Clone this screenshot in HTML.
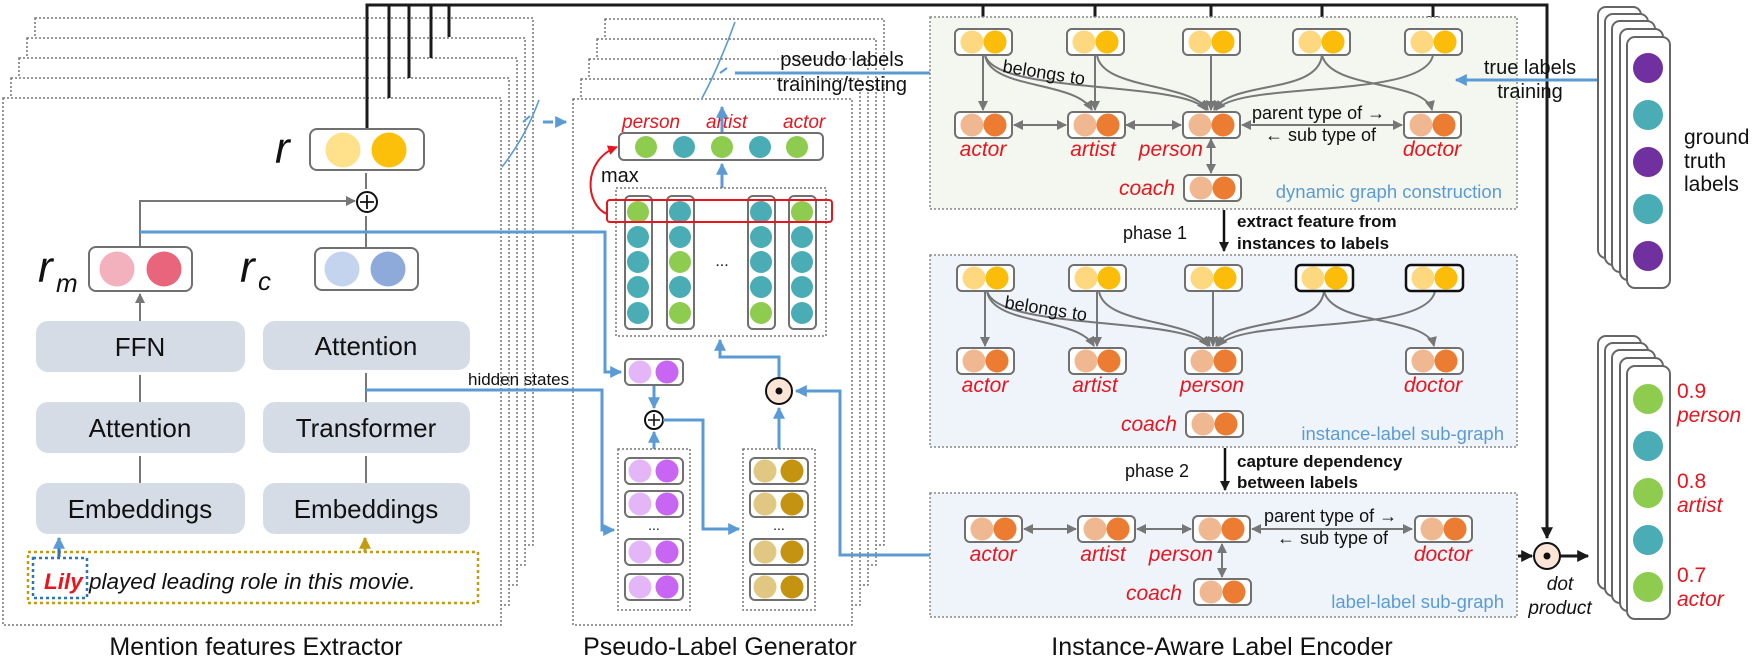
<!DOCTYPE html>
<html><head><meta charset="utf-8"><style>
html,body{margin:0;padding:0;background:#fff}
svg{display:block}
text{font-family:"Liberation Sans",sans-serif}
.it{font-style:italic}
.red{fill:#e8141e;font-style:italic;font-size:21px}
.fr{fill:#fff;stroke:#777;stroke-width:1.5;stroke-dasharray:2 2}
.gb{fill:#d6dce6;}
.bx{fill:#fff;stroke:#707070;stroke-width:2}
.g{stroke:#777;stroke-width:2;fill:none}
.bl{stroke:#5b9bd5;stroke-width:3;fill:none}
.k{stroke:#1a1a1a;stroke-width:3;fill:none}
</style></head><body>
<svg width="1753" height="660" viewBox="0 0 1753 660" xmlns="http://www.w3.org/2000/svg">
<defs>
<marker id="ag" viewBox="0 0 10 10" refX="9" refY="5" markerWidth="5" markerHeight="5" orient="auto-start-reverse"><path d="M0,0L10,5L0,10z" fill="#777"/></marker>
<marker id="ab" viewBox="0 0 10 10" refX="9" refY="5" markerWidth="4" markerHeight="4" orient="auto-start-reverse"><path d="M0,0L10,5L0,10z" fill="#5b9bd5"/></marker>
<marker id="ak" viewBox="0 0 10 10" refX="9" refY="5" markerWidth="4" markerHeight="4" orient="auto-start-reverse"><path d="M0,0L10,5L0,10z" fill="#1a1a1a"/></marker>
<marker id="ar" viewBox="0 0 10 10" refX="9" refY="5" markerWidth="5" markerHeight="5" orient="auto"><path d="M0,0L10,5L0,10z" fill="#e8141e"/></marker>
<marker id="ay" viewBox="0 0 10 10" refX="9" refY="5" markerWidth="4" markerHeight="4" orient="auto"><path d="M0,0L10,5L0,10z" fill="#c49a10"/></marker>
<g id="ib"><rect x="0" y="0" width="57" height="26" rx="5" class="bx"/><circle cx="17" cy="13" r="11.5" fill="#fdd87e"/><circle cx="40" cy="13" r="11.5" fill="#fbbd0a"/></g>
<g id="ibk"><rect x="0" y="0" width="57" height="26" rx="5" fill="#fff" stroke="#111" stroke-width="2.5"/><circle cx="17" cy="13" r="11.5" fill="#fdd87e"/><circle cx="40" cy="13" r="11.5" fill="#fbbd0a"/></g>
<g id="lb"><rect x="0" y="0" width="57" height="26" rx="5" class="bx"/><circle cx="17" cy="13" r="11.5" fill="#f0b890"/><circle cx="40" cy="13" r="11.5" fill="#ec7c32"/></g>
<g id="pb"><rect x="0" y="0" width="58" height="26" rx="5" class="bx"/><circle cx="15" cy="13" r="11.5" fill="#e4b6f8"/><circle cx="42" cy="13" r="11.5" fill="#c865f2"/></g>
<g id="yb"><rect x="0" y="0" width="58" height="26" rx="5" class="bx"/><circle cx="15" cy="13" r="11.5" fill="#e0c882"/><circle cx="42" cy="13" r="11.5" fill="#c49410"/></g>
</defs>

<!-- Left panel stack -->
<rect x="35" y="18" width="498" height="527" class="fr"/>
<rect x="27" y="38" width="498" height="527" class="fr"/>
<rect x="19" y="58" width="498" height="527" class="fr"/>
<rect x="11" y="78" width="498" height="527" class="fr"/>
<rect x="3" y="98" width="498" height="527" class="fr"/>

<!-- PLG stack -->
<rect x="605" y="19" width="279" height="526" class="fr"/>
<rect x="597" y="39" width="279" height="526" class="fr"/>
<rect x="589" y="59" width="279" height="526" class="fr"/>
<rect x="581" y="79" width="279" height="526" class="fr"/>
<rect x="573" y="99" width="279" height="526" class="fr"/>

<!-- black top connections -->
<path d="M367 129V5H1547V538" class="k" marker-end="url(#ak)"/>
<path d="M389 5V98M409 5V78M431 5V58M449 5V37" class="k"/>
<path d="M983 5V27M1095 5V27M1211 5V27M1322 5V27M1433 5V27" class="k" marker-end="url(#ak)"/>

<!-- Left panel contents -->
<rect x="36" y="321" width="209" height="51" rx="12" class="gb"/>
<rect x="36" y="402" width="209" height="51" rx="12" class="gb"/>
<rect x="36" y="483" width="209" height="51" rx="12" class="gb"/>
<rect x="263" y="321" width="207" height="49" rx="12" class="gb"/>
<rect x="263" y="402" width="207" height="51" rx="12" class="gb"/>
<rect x="263" y="483" width="207" height="51" rx="12" class="gb"/>
<g font-size="26" text-anchor="middle" fill="#111">
<text x="140" y="356">FFN</text><text x="140" y="437">Attention</text><text x="140" y="518">Embeddings</text>
<text x="366" y="355">Attention</text><text x="366" y="437">Transformer</text><text x="366" y="518">Embeddings</text>
</g>
<path d="M140 402V375M140 483V456M366 402V373M366 483V456M366 248V216M366 189V173M140 321V294" class="g" marker-end="url(#ag)"/>
<path d="M140 247V201H355" class="g" marker-end="url(#ag)"/>
<circle cx="367" cy="202" r="10" fill="#fff" stroke="#111" stroke-width="2"/>
<path d="M360 202H374M367 195V209" stroke="#111" stroke-width="1.8"/>
<rect x="310" y="129" width="114" height="41" rx="7" class="bx"/>
<circle cx="343" cy="150" r="17.5" fill="#fee18a"/><circle cx="389" cy="150" r="17.5" fill="#fdc00a"/>
<rect x="89" y="247" width="103" height="44" rx="7" class="bx"/>
<circle cx="117" cy="269" r="17.5" fill="#f3b0bd"/><circle cx="164" cy="269" r="17.5" fill="#e8657c"/>
<rect x="315" y="248" width="103" height="42" rx="7" class="bx"/>
<circle cx="342" cy="269" r="17.5" fill="#c4d3ee"/><circle cx="388" cy="269" r="17.5" fill="#8eaadb"/>
<text x="275" y="163" font-family="Liberation Serif" font-style="italic" font-size="44" fill="#111">r</text>
<text x="38" y="282" font-family="Liberation Serif" font-style="italic" font-size="44" fill="#111">r</text>
<text x="56" y="292" font-family="Liberation Serif" font-style="italic" font-size="26" fill="#111">m</text>
<text x="240" y="282" font-family="Liberation Serif" font-style="italic" font-size="44" fill="#111">r</text>
<text x="258" y="290" font-family="Liberation Serif" font-style="italic" font-size="26" fill="#111">c</text>

<rect x="28" y="552" width="450" height="51" fill="none" stroke="#c49a10" stroke-width="2.5" stroke-dasharray="3 3"/>
<rect x="33" y="558" width="54" height="40" fill="none" stroke="#2e75b6" stroke-width="2.5" stroke-dasharray="3 3"/>
<path d="M59 557V538" stroke="#2e75b6" stroke-width="3" marker-end="url(#ab)"/>
<path d="M365 552V538" stroke="#c49a10" stroke-width="3" marker-end="url(#ay)"/>
<text x="44" y="589" font-size="22.5" class="it" fill="#111"><tspan fill="#e8141e" font-weight="bold">Lily</tspan> played leading role in this movie.</text>
<text x="256" y="655" font-size="25" text-anchor="middle" fill="#111">Mention features Extractor</text>

<!-- blue slashes -->
<path d="M502 167C515 150 528 130 539 100" stroke="#5b9bd5" stroke-width="1.6" fill="none"/>
<path d="M523 122L530 116" stroke="#5b9bd5" stroke-width="2"/>
<path d="M543 122H566" class="bl" stroke-dasharray="10 4" marker-end="url(#ab)"/>
<path d="M702 98C712 80 725 50 735 22" stroke="#5b9bd5" stroke-width="1.6" fill="none"/>
<path d="M720 73L727 68" stroke="#5b9bd5" stroke-width="2"/>

<!-- PLG contents -->
<path d="M140 232H605V372H621" class="bl" marker-end="url(#ab)"/>
<path d="M366 390H602V530H614" class="bl" marker-end="url(#ab)"/>
<text x="468" y="385" font-size="17" fill="#111">hidden states</text>
<g class="red" font-size="19"><text x="622" y="128" font-size="19">person</text><text x="706" y="128" font-size="19">artist</text><text x="783" y="128" font-size="19">actor</text></g>
<path d="M722 133V107" class="bl" marker-end="url(#ab)"/>
<path d="M735 73H952" class="bl" marker-end="url(#ab)"/>
<text x="842" y="66" font-size="20" text-anchor="middle" fill="#111">pseudo labels</text>
<text x="842" y="91" font-size="20" text-anchor="middle" fill="#111">training/testing</text>
<rect x="619" y="133" width="204" height="27" rx="5" class="bx"/>
<circle cx="646" cy="147" r="11" fill="#8dcc4e"/><circle cx="684" cy="147" r="11" fill="#4aacb4"/><circle cx="722" cy="147" r="11" fill="#8dcc4e"/><circle cx="760" cy="147" r="11" fill="#4aacb4"/><circle cx="797" cy="147" r="11" fill="#8dcc4e"/>
<path d="M722 188V164" class="bl" marker-end="url(#ab)"/>
<text x="601" y="182" font-size="20" fill="#111">max</text>
<path d="M607 214C585 205 582 160 617 147" stroke="#e8141e" stroke-width="2" fill="none" marker-end="url(#ar)"/>
<rect x="616" y="188" width="210" height="148" fill="none" stroke="#777" stroke-width="1.5" stroke-dasharray="2 2"/>
<g class="bx"><rect x="625" y="196" width="27" height="133" rx="5"/><rect x="667" y="196" width="27" height="133" rx="5"/><rect x="748" y="196" width="27" height="133" rx="5"/><rect x="789" y="196" width="27" height="133" rx="5"/></g>
<g>
<circle cx="638" cy="212" r="11" fill="#8dcc4e"/><circle cx="638" cy="237" r="11" fill="#4aacb4"/><circle cx="638" cy="262" r="11" fill="#4aacb4"/><circle cx="638" cy="287" r="11" fill="#4aacb4"/><circle cx="638" cy="313" r="11" fill="#4aacb4"/>
<circle cx="680" cy="212" r="11" fill="#4aacb4"/><circle cx="680" cy="237" r="11" fill="#4aacb4"/><circle cx="680" cy="262" r="11" fill="#8dcc4e"/><circle cx="680" cy="287" r="11" fill="#4aacb4"/><circle cx="680" cy="313" r="11" fill="#8dcc4e"/>
<circle cx="761" cy="212" r="11" fill="#4aacb4"/><circle cx="761" cy="237" r="11" fill="#4aacb4"/><circle cx="761" cy="262" r="11" fill="#4aacb4"/><circle cx="761" cy="287" r="11" fill="#4aacb4"/><circle cx="761" cy="313" r="11" fill="#8dcc4e"/>
<circle cx="802" cy="212" r="11" fill="#8dcc4e"/><circle cx="802" cy="237" r="11" fill="#4aacb4"/><circle cx="802" cy="262" r="11" fill="#4aacb4"/><circle cx="802" cy="287" r="11" fill="#4aacb4"/><circle cx="802" cy="313" r="11" fill="#4aacb4"/>
</g>
<text x="722" y="266" font-size="16" text-anchor="middle" fill="#111">...</text>
<rect x="607" y="200" width="225" height="22" rx="3" fill="none" stroke="#e8141e" stroke-width="2"/>

<use href="#pb" x="625" y="359"/>
<path d="M654 386V408" class="bl" marker-end="url(#ab)"/>
<path d="M654 449V432" class="bl" marker-end="url(#ab)"/>
<circle cx="654" cy="420" r="9" fill="#fff" stroke="#111" stroke-width="2"/>
<path d="M648 420H660M654 414V426" stroke="#111" stroke-width="1.6"/>
<path d="M663 420H703V529H739" class="bl" marker-end="url(#ab)"/>
<rect x="618" y="449" width="72" height="161" fill="none" stroke="#777" stroke-width="1.5" stroke-dasharray="2 2"/>
<use href="#pb" x="625" y="458"/><use href="#pb" x="625" y="491"/><use href="#pb" x="625" y="539"/><use href="#pb" x="625" y="574"/>
<text x="654" y="530" font-size="14" text-anchor="middle" fill="#111">...</text>
<rect x="743" y="449" width="72" height="161" fill="none" stroke="#777" stroke-width="1.5" stroke-dasharray="2 2"/>
<use href="#yb" x="750" y="458"/><use href="#yb" x="750" y="491"/><use href="#yb" x="750" y="539"/><use href="#yb" x="750" y="574"/>
<text x="779" y="530" font-size="14" text-anchor="middle" fill="#111">...</text>
<path d="M779 449V408" class="bl" marker-end="url(#ab)"/>
<path d="M779 378V357H720V340" class="bl" marker-end="url(#ab)"/>
<path d="M932 555H840V391H796" class="bl" marker-end="url(#ab)"/>
<circle cx="779" cy="391" r="13" fill="#fce4d6" stroke="#111" stroke-width="2"/>
<circle cx="779" cy="391" r="3.5" fill="#111"/>
<text x="720" y="655" font-size="25" text-anchor="middle" fill="#111">Pseudo-Label Generator</text>

<!-- IALE panels -->
<rect x="930" y="17" width="587" height="192" fill="#f3f7ef" stroke="#888" stroke-width="1.5" stroke-dasharray="2 2"/>
<rect x="930" y="255" width="587" height="192" fill="#eff4fb" stroke="#888" stroke-width="1.5" stroke-dasharray="2 2"/>
<rect x="930" y="493" width="587" height="124" fill="#eff4fb" stroke="#888" stroke-width="1.5" stroke-dasharray="2 2"/>

<!-- panel 1 edges -->
<g class="g">
<path d="M983 55V110" marker-end="url(#ag)"/><path d="M1095 55V110" marker-end="url(#ag)"/><path d="M1211 55V110" marker-end="url(#ag)"/>
<path d="M985 55C990 90 1075 80 1092 110" marker-end="url(#ag)"/>
<path d="M985 55C995 95 1185 80 1206 110" marker-end="url(#ag)"/>
<path d="M1097 55C1102 90 1190 82 1208 110" marker-end="url(#ag)"/>
<path d="M1322 55C1318 95 1230 80 1214 110" marker-end="url(#ag)"/>
<path d="M1322 55C1330 90 1425 80 1432 110" marker-end="url(#ag)"/>
<path d="M1433 55C1425 100 1240 80 1216 110" marker-end="url(#ag)"/>
<path d="M1014 125H1066" marker-start="url(#ag)" marker-end="url(#ag)"/>
<path d="M1126 125H1181" marker-start="url(#ag)" marker-end="url(#ag)"/>
<path d="M1242 125H1402" marker-start="url(#ag)" marker-end="url(#ag)"/>
<path d="M1211 139V173" marker-start="url(#ag)" marker-end="url(#ag)"/>
</g>
<use href="#ib" x="955" y="29"/><use href="#ib" x="1067" y="29"/><use href="#ib" x="1183" y="29"/><use href="#ib" x="1293" y="29"/><use href="#ib" x="1405" y="29"/>
<use href="#lb" x="955" y="112"/><use href="#lb" x="1068" y="112"/><use href="#lb" x="1183" y="112"/><use href="#lb" x="1404" y="112"/><use href="#lb" x="1184" y="175"/>
<text x="1002" y="72" font-size="18" fill="#111" transform="rotate(9 1002 72)">belongs to</text>
<text x="1252" y="119" font-size="18" fill="#111">parent type of →</text>
<text x="1265" y="141" font-size="18" fill="#111">← sub type of</text>
<text x="983" y="156" class="red" text-anchor="middle">actor</text>
<text x="1093" y="156" class="red" text-anchor="middle">artist</text>
<text x="1203" y="156" class="red" text-anchor="end">person</text>
<text x="1432" y="156" class="red" text-anchor="middle">doctor</text>
<text x="1175" y="195" class="red" text-anchor="end">coach</text>
<text x="1502" y="198" font-size="18.5" fill="#5b9bd5" text-anchor="end">dynamic graph construction</text>
<path d="M1224 210V251" stroke="#111" stroke-width="2.5" marker-end="url(#ak)"/>
<text x="1123" y="239" font-size="18" fill="#111">phase 1</text>
<text x="1237" y="227" font-size="17" font-weight="bold" fill="#111">extract feature from</text>
<text x="1237" y="249" font-size="17" font-weight="bold" fill="#111">instances to labels</text>

<!-- panel 2 -->
<g class="g">
<path d="M985 291V346" marker-end="url(#ag)"/><path d="M1097 291V346" marker-end="url(#ag)"/><path d="M1213 291V346" marker-end="url(#ag)"/>
<path d="M987 291C992 326 1077 316 1094 346" marker-end="url(#ag)"/>
<path d="M987 291C997 331 1187 316 1208 346" marker-end="url(#ag)"/>
<path d="M1099 291C1104 326 1192 318 1210 346" marker-end="url(#ag)"/>
<path d="M1324 291C1320 331 1232 316 1216 346" marker-end="url(#ag)"/>
<path d="M1324 291C1332 326 1427 316 1434 346" marker-end="url(#ag)"/>
<path d="M1435 291C1427 336 1242 316 1218 346" marker-end="url(#ag)"/>
</g>
<use href="#ib" x="957" y="265"/><use href="#ib" x="1069" y="265"/><use href="#ib" x="1185" y="265"/><use href="#ibk" x="1296" y="265"/><use href="#ibk" x="1406" y="265"/>
<use href="#lb" x="957" y="348"/><use href="#lb" x="1069" y="348"/><use href="#lb" x="1185" y="348"/><use href="#lb" x="1406" y="348"/><use href="#lb" x="1186" y="411"/>
<text x="1004" y="308" font-size="18" fill="#111" transform="rotate(9 1004 308)">belongs to</text>
<text x="985" y="392" class="red" text-anchor="middle">actor</text>
<text x="1095" y="392" class="red" text-anchor="middle">artist</text>
<text x="1212" y="392" class="red" text-anchor="middle">person</text>
<text x="1433" y="392" class="red" text-anchor="middle">doctor</text>
<text x="1177" y="431" class="red" text-anchor="end">coach</text>
<text x="1504" y="440" font-size="18.5" fill="#5b9bd5" text-anchor="end">instance-label sub-graph</text>
<path d="M1225 448V490" stroke="#111" stroke-width="2.5" marker-end="url(#ak)"/>
<text x="1125" y="477" font-size="18" fill="#111">phase 2</text>
<text x="1237" y="467" font-size="17" font-weight="bold" fill="#111">capture dependency</text>
<text x="1237" y="488" font-size="17" font-weight="bold" fill="#111">between labels</text>

<!-- panel 3 -->
<g class="g">
<path d="M1024 529H1076" marker-start="url(#ag)" marker-end="url(#ag)"/>
<path d="M1137 529H1191" marker-start="url(#ag)" marker-end="url(#ag)"/>
<path d="M1252 529H1412" marker-start="url(#ag)" marker-end="url(#ag)"/>
<path d="M1222 544V577" marker-start="url(#ag)" marker-end="url(#ag)"/>
</g>
<use href="#lb" x="965" y="516"/><use href="#lb" x="1078" y="516"/><use href="#lb" x="1193" y="516"/><use href="#lb" x="1415" y="516"/><use href="#lb" x="1194" y="579"/>
<text x="1264" y="522" font-size="18" fill="#111">parent type of →</text>
<text x="1277" y="544" font-size="18" fill="#111">← sub type of</text>
<text x="993" y="561" class="red" text-anchor="middle">actor</text>
<text x="1103" y="561" class="red" text-anchor="middle">artist</text>
<text x="1213" y="561" class="red" text-anchor="end">person</text>
<text x="1443" y="561" class="red" text-anchor="middle">doctor</text>
<text x="1182" y="600" class="red" text-anchor="end">coach</text>
<text x="1504" y="608" font-size="18.5" fill="#5b9bd5" text-anchor="end">label-label sub-graph</text>
<text x="1222" y="655" font-size="25" text-anchor="middle" fill="#111">Instance-Aware Label Encoder</text>

<!-- dot product -->
<path d="M1518 556H1532" class="k" marker-end="url(#ak)"/>
<path d="M1560 556H1588" class="k" marker-end="url(#ak)"/>
<circle cx="1547" cy="556" r="13" fill="#fce4d6" stroke="#111" stroke-width="2"/>
<circle cx="1547" cy="556" r="3.5" fill="#111"/>
<text x="1560" y="590" font-size="19" class="it" text-anchor="middle" fill="#111">dot</text>
<text x="1560" y="614" font-size="19" class="it" text-anchor="middle" fill="#111">product</text>

<!-- right stacks -->
<g fill="#fff" stroke="#666" stroke-width="2">
<rect x="1598" y="7" width="43" height="251" rx="8"/><rect x="1605" y="14" width="43" height="251" rx="8"/><rect x="1612" y="21" width="43" height="251" rx="8"/><rect x="1620" y="29" width="43" height="251" rx="8"/><rect x="1627" y="37" width="43" height="251" rx="8"/>
<rect x="1598" y="336" width="43" height="253" rx="8"/><rect x="1605" y="343" width="43" height="253" rx="8"/><rect x="1612" y="350" width="43" height="253" rx="8"/><rect x="1620" y="358" width="43" height="253" rx="8"/><rect x="1627" y="366" width="43" height="253" rx="8"/>
</g>
<circle cx="1648" cy="68" r="15" fill="#7030a0"/><circle cx="1648" cy="115" r="15" fill="#4aacb4"/><circle cx="1648" cy="162" r="15" fill="#7030a0"/><circle cx="1648" cy="209" r="15" fill="#4aacb4"/><circle cx="1648" cy="256" r="15" fill="#7030a0"/>
<circle cx="1648" cy="399" r="15" fill="#8dcc4e"/><circle cx="1648" cy="446" r="15" fill="#4aacb4"/><circle cx="1648" cy="493" r="15" fill="#8dcc4e"/><circle cx="1648" cy="540" r="15" fill="#4aacb4"/><circle cx="1648" cy="587" r="15" fill="#8dcc4e"/>
<g font-size="21" fill="#111"><text x="1684" y="144">ground</text><text x="1684" y="168">truth</text><text x="1684" y="191">labels</text></g>
<path d="M1597 80H1456" class="bl" marker-end="url(#ab)"/>
<text x="1530" y="74" font-size="20" text-anchor="middle" fill="#111">true labels</text>
<text x="1530" y="98" font-size="20" text-anchor="middle" fill="#111">training</text>
<g font-size="21" fill="#e8141e">
<text x="1677" y="398">0.9</text><text x="1677" y="422" class="it">person</text>
<text x="1677" y="488">0.8</text><text x="1677" y="512" class="it">artist</text>
<text x="1677" y="582">0.7</text><text x="1677" y="606" class="it">actor</text>
</g>
</svg>
</body></html>
